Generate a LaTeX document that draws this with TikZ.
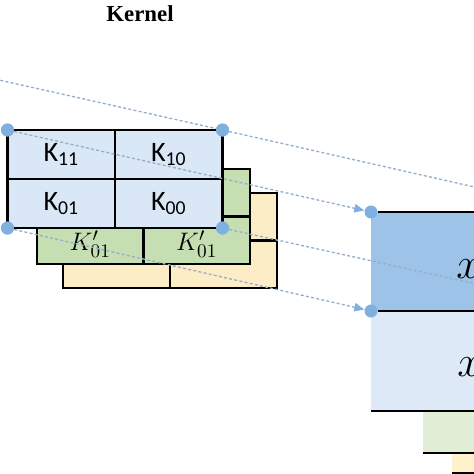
\documentclass[tikz,border=0pt]{standalone}
\usepackage{fontspec}
\usepackage{graphicx}
\newfontfamily\cellfont{Carlito}
\newfontfamily\titlefont{Liberation Serif}
\usetikzlibrary{positioning,calc,arrows.meta}
\definecolor{cKer}{HTML}{DAE7F6}
\definecolor{cGrn}{HTML}{C6DFB2}
\definecolor{cYel}{HTML}{FDEDC6}
\definecolor{cDot}{HTML}{7FB0E0}
\definecolor{cDash}{HTML}{94AECC}
\definecolor{cOutA}{HTML}{9DC3E8}
\definecolor{cOutB}{HTML}{DDE9F7}
\definecolor{cOutG}{HTML}{E0EED5}
\definecolor{cOutY}{HTML}{FFF1CC}
\newcommand{\klow}[1]{\raisebox{-6pt}[0pt][0pt]{#1}}
\tikzset{
  kcell/.style={draw=black,line width=0.45mm,fill=cKer,minimum width=21.5mm,minimum height=9.8mm,inner sep=0pt,outer sep=0pt,font=\cellfont\fontsize{16}{18}\selectfont},
  gcell/.style={draw=black,line width=0.45mm,fill=cGrn,minimum width=21.3mm,minimum height=9.5mm,inner sep=0pt,outer sep=0pt,font=\fontsize{15.5}{17}\selectfont},
  ycell/.style={draw=black,line width=0.45mm,fill=cYel,minimum width=21.4mm,minimum height=9.5mm,inner sep=0pt,outer sep=0pt},
  dot/.style={circle,fill=cDot,minimum size=2.6mm,inner sep=0pt},
  link/.style={cDash,line width=0.75pt,dash pattern=on 0.6mm off 0.45mm},
  linkin/.style={link,-{Triangle[length=2mm,width=1.7mm,fill=cDot,color=cDot]}},
  edge/.style={black,line width=0.5mm},
  xlab/.style={inner sep=0pt,font=\fontsize{26}{30}\selectfont},
}

\begin{document}
\begin{tikzpicture}[x=0.2mm,y=-0.2mm]
  \useasboundingbox (0,0) rectangle (474,474);
  \clip (0,0) rectangle (474,474);
  \node[font=\titlefont\bfseries\fontsize{13}{15}\selectfont] (title) at (140,14) {Kernel};
  % kernel layers, back to front
  \node[ycell] (y11) at (116.5,216.75) {};
  \node[ycell,right=0pt of y11] (y10) {};
  \node[ycell,below=0pt of y11] (y01) {};
  \node[ycell,right=0pt of y01] (y00) {};
  \node[gcell] (g11) at (90.25,192.75) {};
  \node[gcell,right=0pt of g11] (g10) {};
  \node[gcell,below=0pt of g11] (g01) {\klow{$K'_{01}$}};
  \node[gcell,right=0pt of g01] (g00) {\klow{$K'_{01}$}};
  \node[kcell] (k11) at (61.25,154.5) {K\textsubscript{11}};
  \node[kcell,right=0pt of k11] (k10) {K\textsubscript{10}};
  \node[kcell,below=0pt of k11] (k01) {K\textsubscript{01}};
  \node[kcell,right=0pt of k01] (k00) {K\textsubscript{00}};
  % output blocks
  \fill[cOutY] (452,453) rectangle (500,480);
  \fill[cOutG] (423,411) rectangle (500,453);
  \fill[cOutB] (371,311) rectangle (500,411);
  \fill[cOutA] (371,212) rectangle (500,311);
  \node[dot] (pa) at (371,212) {};
  \node[dot] (pb) at (371,311) {};
  \draw[edge] (pa.east) -- (500,212);
  \draw[edge] (pb.east) -- (500,311);
  \draw[edge] (371,411) -- (500,411);
  \draw[edge] (423,453) -- (500,453);
  \draw[edge] (452,473) -- (500,473);
  \node[xlab,anchor=base west] (xa) at (456,278) {$x$};
  \node[xlab,anchor=base west] (xb) at (457,376) {$x$};
  % corner dots and projections
  \node[dot] (dTL) at (k11.north west) {};
  \node[dot] (dTR) at (k10.north east) {};
  \node[dot] (dBL) at (k01.south west) {};
  \node[dot] (dBR) at (k00.south east) {};
  \coordinate (fa) at (-10,78);
  \coordinate (fb) at (490,190.5);
  \coordinate (fd) at (490,287);
  \draw[link] (fa) -- (dTR);
  \draw[link] (dTR) -- (fb);
  \draw[link] (dBR) -- (fd);
  \draw[linkin] (dTL) -- (pa);
  \draw[linkin] (dBL) -- (pb);
  \node[dot] at (dTL) {};
  \node[dot] at (dTR) {};
  \node[dot] at (dBL) {};
  \node[dot] at (dBR) {};
\end{tikzpicture}
\end{document}
